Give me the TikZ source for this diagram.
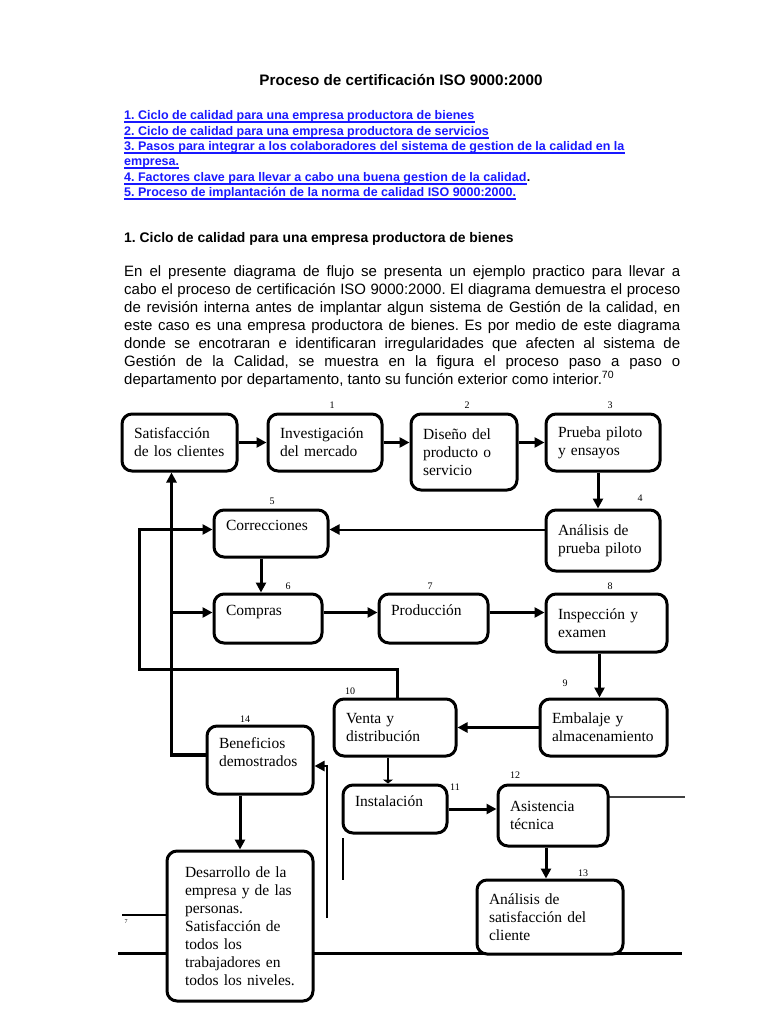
\documentclass[tikz,border=0pt]{standalone}
\usepackage{fontspec}
\setmainfont{Liberation Serif}
\newfontfamily\arialfont{Liberation Sans}
\usetikzlibrary{arrows.meta}
\definecolor{linkblue}{RGB}{25,25,255}
\frenchspacing

\begin{document}
\begin{tikzpicture}[x=1pt, y=-1pt,
    box/.style={draw, line width=3pt, rounded corners=10pt, fill=white, align=left,
        inner xsep=12pt, inner ysep=0pt, font=\fontsize{15.5}{18}\selectfont},
    num/.style={inner sep=0pt, font=\fontsize{10}{10}\selectfont},
    arr/.style={line width=3pt, -{Triangle[length=10pt,width=10pt]}},
    link/.style={anchor=base west, inner sep=0pt, text=linkblue,
        font=\arialfont\bfseries\fontsize{12.5}{14}\selectfont},
    uline/.style={draw=linkblue, line width=1.2pt}]
    \fill[white] (0,0) rectangle (768,1024);
    \useasboundingbox (0,0) rectangle (768,1024);

    % Heading and links
    \node[anchor=base, inner sep=0pt, font=\arialfont\bfseries\fontsize{15.2}{18}\selectfont]
        (title) at (401,86) {Proceso de certificación ISO 9000:2000};
    \node[link] (l1) at (124,120) {1. Ciclo de calidad para una empresa productora de bienes};
    \node[link] (l2) at (124,136) {2. Ciclo de calidad para una empresa productora de servicios};
    \node[link] (l3) at (124,151) {3. Pasos para integrar a los colaboradores del sistema de gestion de la calidad en la\ };
    \node[link] (l4) at (124,166) {empresa.};
    \node[link] (l5) at (124,182) {4. Factores clave para llevar a cabo una buena gestion de la calidad};
    \node[anchor=base west, inner sep=0pt, font=\arialfont\bfseries\fontsize{12.5}{14}\selectfont]
        (dot) at (l5.base east) {.};
    \node[link] (l6) at (124,197) {5. Proceso de implantación de la norma de calidad ISO 9000:2000.};
    \foreach \l in {l1,l2,l3,l4,l5,l6}
        \draw[uline] ([yshift=-2pt]\l.base west) -- ([yshift=-2pt]\l.base east);

    % Section text
    \node[anchor=base west, inner sep=0pt, font=\arialfont\bfseries\fontsize{13.9}{16}\selectfont]
        (sec) at (124,243) {1. Ciclo de calidad para una empresa productora de bienes};
    \node[anchor=north west, text width=556pt, align=justify, inner sep=0pt,
        font=\arialfont\fontsize{15}{18}\selectfont] (intro) at (124,265)
        {En el presente diagrama de flujo se presenta un ejemplo practico para llevar a\linebreak
         cabo el proceso de certificación ISO 9000:2000. El diagrama demuestra el proceso\linebreak
         de revisión interna antes de implantar algun sistema de Gestión de la calidad, en\linebreak
         este caso es una empresa productora de bienes. Es por medio de este diagrama\linebreak
         donde se encotraran e identificaran irregularidades que afecten al sistema de\linebreak
         Gestión de la Calidad, se muestra en la figura el proceso paso a paso o\linebreak
         departamento por departamento, tanto su función exterior como interior.\textsuperscript{70}};

    % Loose lines
    \draw[line width=3pt] (118,953) -- (682,953);
    \draw[line width=1.5pt] (122,915) -- (167,915);
    \node[inner sep=0pt, font=\fontsize{6}{6}\selectfont] (n7b) at (126,922) {7};
    \draw[line width=1.5pt, black!75] (608,797) -- (685,797);
    \draw[line width=1.5pt] (343,838) -- (343,880);

    % Boxes
    \node[box, text width=91pt, minimum height=57pt] (sat) at (179.5,442.5) {Satisfacción\\de los clientes};
    \node[box, text width=90pt, minimum height=57pt] (inv) at (325,442.5) {Investigación\\del mercado};
    \node[box, text width=82pt, minimum height=76pt] (dis) at (464,452) {Diseño del\\producto o\\servicio};
    \node[box, text width=90pt, minimum height=57pt] (pru) at (603,442.5) {Prueba piloto\\y ensayos};
    \node[box, text width=90pt, minimum height=61pt] (anp) at (603,540.5) {Análisis de\\prueba piloto};
    \node[box, text width=90pt, minimum height=47pt, text depth=16pt] (cor) at (271,533.5) {Correcciones};
    \node[box, text width=84pt, minimum height=49pt, text depth=16pt] (com) at (268,618.5) {Compras};
    \node[box, text width=85pt, minimum height=49pt, text depth=16pt] (pro) at (433.5,618.5) {Producción};
    \node[box, text width=97pt, minimum height=58pt] (ins) at (606.5,623) {Inspección y\\examen};
    \node[box, text width=103pt, minimum height=57pt] (emb) at (603.5,727.5) {Embalaje y\\almacenamiento};
    \node[box, text width=98pt, minimum height=57pt] (ven) at (395,727.5) {Venta y\\distribución};
    \node[box, text width=82pt, minimum height=68pt, text depth=34pt] (ben) at (260,760) {Beneficios\\demostrados};
    \node[box, text width=80pt, minimum height=48pt, text depth=16pt] (inst) at (395,809) {Instalación};
    \node[box, text width=86pt, minimum height=61pt] (asi) at (553,815.5) {Asistencia\\técnica};
    \node[box, text width=122pt, minimum height=74pt] (ans) at (550,917) {Análisis de\\satisfacción del\\cliente};
    \node[box, text width=110pt, minimum height=150pt, inner xsep=18pt] (des) at (240,926)
        {Desarrollo de la\\empresa y de las\\personas.\\Satisfacción de\\todos los\\trabajadores en\\todos los niveles.};

    % Step numbers
    \node[num] (n1) at (332,405) {1};
    \node[num] (n2) at (467,405) {2};
    \node[num] (n3) at (610,405) {3};
    \node[num] (n4) at (640,498) {4};
    \node[num] (n5) at (272,501) {5};
    \node[num] (n6) at (288,586) {6};
    \node[num] (n7) at (430,586) {7};
    \node[num] (n8) at (610,586) {8};
    \node[num] (n9) at (565,683) {9};
    \node[num] (n10) at (350,691) {10};
    \node[num] (n11) at (455,787) {11};
    \node[num] (n12) at (515,775) {12};
    \node[num] (n13) at (583,873) {13};
    \node[num] (n14) at (245,719) {14};

    % Connectors
    \coordinate (satIn) at ([xshift=-8pt]sat.south);
    \coordinate (benOut) at ([yshift=5pt]ben.west);
    \coordinate (comIn) at ([yshift=6pt]com.west);
    \coordinate (comOut) at ([yshift=6pt]com.east);
    \coordinate (proOut) at ([yshift=6pt]pro.east);
    \coordinate (corIn) at ([yshift=4pt]cor.east);
    \coordinate (corIn2) at ([yshift=4pt]cor.west);
    \coordinate (corDown) at ([xshift=-10pt]cor.south);
    \coordinate (pruDown) at ([xshift=-5pt]pru.south);
    \coordinate (insDown) at ([xshift=-7pt]ins.south);
    \coordinate (venOut) at ([xshift=2pt]ven.north);
    \coordinate (venDown) at ([xshift=-7pt]ven.south);
    \coordinate (asiDown) at ([xshift=-7pt]asi.south);
    \coordinate (benIn) at ([yshift=-6pt]ben.east);
    \coordinate (loopL) at (139,669);
    \coordinate (riseB) at (327,918);

    \draw[arr] (sat) -- (inv);
    \draw[arr] (inv.east) -- (inv.east -| dis.west);
    \draw[arr] (dis.east |- pru.west) -- (pru.west);
    \draw[arr] (pruDown) -- (pruDown |- anp.north);
    \draw[arr, line width=2pt] (anp.west |- corIn) -- (corIn);
    \draw[arr] (corDown) -- (corDown |- com.north);
    \draw[arr] (comOut) -- (comOut -| pro.west);
    \draw[arr] (proOut) -- (proOut -| ins.west);
    \draw[arr] (insDown) -- (insDown |- emb.north);
    \draw[arr] (emb) -- (ven);
    \draw[line width=2pt, -{Triangle[length=4pt,width=10pt]}] (venDown) -- (venDown |- inst.north);
    \draw[arr] (inst.east) -- (inst.east -| asi.west);
    \draw[arr] (asiDown) -- (asiDown |- ans.north);
    \draw[arr] (ben.south -| des.north) -- (des.north);
    \draw[arr, line width=3.5pt] (benOut) -| (satIn);
    \draw[arr] (satIn |- comIn) -- (comIn);
    \draw[arr] (venOut) |- (loopL) |- (corIn2);
    \draw[arr, line width=2.5pt] (riseB) |- (benIn);
\end{tikzpicture}
\end{document}
